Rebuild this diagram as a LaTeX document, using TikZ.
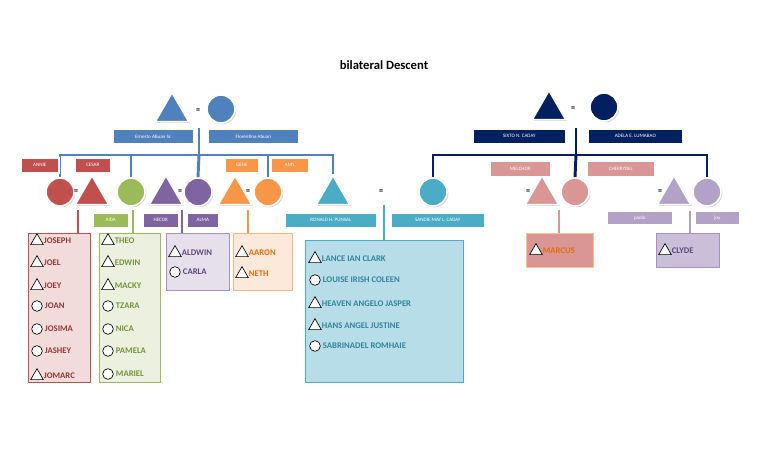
\documentclass[tikz,border=0pt]{standalone}
\usepackage{fontspec}
\setmainfont{Carlito}
\usetikzlibrary{shapes.geometric,shadows}
\definecolor{cblue}{HTML}{4F81BD}\definecolor{cred}{HTML}{C0504D}
\definecolor{cgreen}{HTML}{9BBB59}\definecolor{cpurp}{HTML}{8064A2}
\definecolor{corange}{HTML}{F79646}\definecolor{cteal}{HTML}{4BACC6}
\definecolor{cnavy}{HTML}{002060}\definecolor{cpink}{HTML}{D99694}
\definecolor{clav}{HTML}{B3A2C7}
\definecolor{lred}{HTML}{F2DCDB}\definecolor{lgreen}{HTML}{EBF1DE}
\definecolor{lpurp}{HTML}{E5E0EC}\definecolor{lorange}{HTML}{FDE9D9}
\definecolor{lteal}{HTML}{B7DEE8}
\definecolor{tred}{HTML}{943634}\definecolor{tgreen}{HTML}{76923C}
\definecolor{tpurp}{HTML}{5F497A}\definecolor{torange}{HTML}{E36C09}
\definecolor{tteal}{HTML}{31849B}
\tikzset{
 sh/.style={draw=white,line width=1.2pt,drop shadow={opacity=0.35,shadow xshift=1pt,shadow yshift=-1pt}},
 tri/.style={sh,regular polygon,regular polygon sides=3,minimum size=29pt,inner sep=0pt,fill=#1},
 cir/.style={sh,circle,minimum size=21pt,inner sep=0pt,fill=#1},
 lab/.style={sh,fill=#1,text=white,font=\fontsize{3.8}{4}\selectfont,inner sep=0pt,anchor=north west},
 eq/.style={font=\bfseries\fontsize{6}{6}\selectfont,inner sep=0pt},
 kbox/.style={draw=#1,line width=1pt,anchor=north west,inner sep=0pt},
 ln/.style={line width=2.2pt,draw=#1},
 stri/.style={draw=black,fill=white,regular polygon,regular polygon sides=3,minimum size=11pt,inner sep=0pt,line width=0.5pt},
 scir/.style={draw=black,fill=white,circle,minimum size=8pt,inner sep=0pt,line width=0.5pt},
 kname/.style={font=\bfseries\fontsize{6.5}{7}\selectfont,anchor=west,inner sep=0pt,text=#1},
}
\newcommand{\bx}[6]{\node[lab=#4,minimum width=#5*0.75pt,minimum height=#6*0.75pt] (#1) at (#2,#3) {#1};}
\newcommand{\kid}[6]{\node[#4] (s#1) at (#2,#3) {};\node[kname=#5] (k#1) at ([xshift=1.5pt]s#1.east) {#6};}
\begin{document}
\begin{tikzpicture}[x=0.75pt,y=-0.75pt]
\useasboundingbox[fill=white] (0,0) rectangle (768,466);
\node[font=\bfseries\fontsize{9.5}{10}\selectfont] (title) at (384,65) {bilateral Descent};
% ---- left grandparents
\node[tri=cblue] (gf1) at (172,112) {};
\node[eq] (e1) at (198,111) {=};
\node[cir=cblue] (gm1) at (221,109) {};
\node[lab=cblue,minimum width=81*0.75pt,minimum height=15*0.75pt] (lgf1) at (112,128) {Ernesto Abuan Sr.};
\node[lab=cblue,minimum width=91*0.75pt,minimum height=15*0.75pt] (lgm1) at (207,128) {Florentina Abuan};
% children
\node[cir=cred] (annie) at (60,192) {};
\node[eq] (e2) at (76,192) {=};
\node[tri=cred] (cesar) at (92,195) {};
\node[cir=cgreen] (aida) at (131,192) {};
\node[tri=cpurp] (hecor) at (166,195) {};
\node[eq] (e3) at (180,192) {=};
\node[cir=cpurp] (alma) at (198,192) {};
\node[tri=corange] (gene) at (235,195) {};
\node[eq] (e4) at (248,192) {=};
\node[cir=corange] (amy) at (268,192) {};
\node[tri=cteal] (ronald) at (333,195) {};
\node[eq] (e5) at (381,192) {=};
\node[cir=cteal] (sandie) at (433,192) {};
\coordinate (j1) at (199,155);
\draw[ln=cblue] (199,128) -- (j1);
\draw[ln=cblue] (annie.north) |- (j1) -| (ronald.north);
\draw[ln=cblue] (131,155) -- (aida.north);
\draw[ln=cblue] (j1) -- (alma.north);
\draw[ln=cblue] (268,155) -- (amy.north);
\node[lab=cred,minimum width=38*0.75pt,minimum height=15*0.75pt] (lannie) at (20,157) {ANNIE};
\node[lab=cred,minimum width=36*0.75pt,minimum height=15*0.75pt] (lcesar) at (74,157) {CESAR};
\node[lab=corange,minimum width=34*0.75pt,minimum height=15*0.75pt] (lgene) at (224,157) {GENE};
\node[lab=corange,minimum width=38*0.75pt,minimum height=15*0.75pt] (lamy) at (270,157) {AMY};
\node[lab=cgreen,minimum width=36*0.75pt,minimum height=15*0.75pt] (laida) at (92,212) {AIDA};
\node[lab=cpurp,minimum width=36*0.75pt,minimum height=15*0.75pt] (lhecor) at (142,212) {HECOR};
\node[lab=cpurp,minimum width=32*0.75pt,minimum height=15*0.75pt] (lalma) at (186,212) {ALMA};
\node[lab=cteal,minimum width=92*0.75pt,minimum height=15*0.75pt] (lronald) at (284,212) {RONALD H. PUNSAL};
\node[lab=cteal,minimum width=94*0.75pt,minimum height=15*0.75pt] (lsandie) at (390,212) {SANDIE MAY L. CADAY};
% kid boxes
\node[kbox=cred,fill=lred,minimum width=62*0.75pt,minimum height=149*0.75pt] (bred) at (28,233) {};
\node[kbox=cgreen,fill=lgreen,minimum width=61*0.75pt,minimum height=149*0.75pt] (bgreen) at (99,233) {};
\node[kbox=cpurp!70,fill=lpurp,minimum width=63*0.75pt,minimum height=57*0.75pt] (bpurp) at (166,233) {};
\node[kbox=corange!70,fill=lorange,minimum width=59*0.75pt,minimum height=57*0.75pt] (borange) at (233,233) {};
\node[kbox=cteal,fill=lteal,minimum width=158*0.75pt,minimum height=142*0.75pt] (bteal) at (305,240) {};
\draw[line width=2pt,cred] (78,210) -- (78,233);
\draw[line width=2pt,cgreen] (133,210) -- (133,233);
\draw[line width=2pt,cpurp] (182,210) -- (182,233);
\draw[line width=2pt,corange] (248,210) -- (248,233);
\draw[line width=2pt,cteal] (384,205) -- (384,240);
% red kids
\kid{a1}{37}{241}{stri}{tred}{JOSEPH}
\kid{a2}{37}{263}{stri}{tred}{JOEL}
\kid{a3}{37}{286}{stri}{tred}{JOEY}
\kid{a4}{37}{306}{scir}{tred}{JOAN}
\kid{a5}{37}{329}{scir}{tred}{JOSIMA}
\kid{a6}{37}{351}{scir}{tred}{JASHEY}
\kid{a7}{37}{376}{stri}{tred}{JOMARC}
\kid{b1}{108}{241}{stri}{tgreen}{THEO}
\kid{b2}{108}{263}{stri}{tgreen}{EDWIN}
\kid{b3}{108}{286}{stri}{tgreen}{MACKY}
\kid{b4}{108}{306}{scir}{tgreen}{TZARA}
\kid{b5}{108}{329}{scir}{tgreen}{NICA}
\kid{b6}{108}{351}{scir}{tgreen}{PAMELA}
\kid{b7}{108}{374}{scir}{tgreen}{MARIEL}
\kid{c1}{175}{253}{stri}{tpurp}{ALDWIN}
\kid{c2}{175}{272}{scir}{tpurp}{CARLA}
\kid{d1}{242}{253}{stri}{torange}{AARON}
\kid{d2}{242}{274}{stri}{torange}{NETH}
\kid{e1}{315}{259}{stri}{tteal}{LANCE IAN CLARK}
\kid{e2}{315}{280}{scir}{tteal}{LOUISE IRISH COLEEN}
\kid{e3}{315}{304}{stri}{tteal}{HEAVEN ANGELO JASPER}
\kid{e4}{315}{326}{stri}{tteal}{HANS ANGEL JUSTINE}
\kid{e5}{315}{346}{scir}{tteal}{SABRINADEL ROMHAIE}
% ---- right grandparents
\node[tri=cnavy] (gf2) at (549,110) {};
\node[eq] (e6) at (573,109) {=};
\node[cir=cnavy] (gm2) at (604,107) {};
\node[lab=cnavy,minimum width=93*0.75pt,minimum height=15*0.75pt] (lgf2) at (472,128) {SIXTO N. CADAY};
\node[lab=cnavy,minimum width=95*0.75pt,minimum height=15*0.75pt] (lgm2) at (587,128) {ADELA E. LUMABAO};
\node[tri=cpink] (melchor) at (542,195) {};
\node[eq] (e7) at (528,192) {=};
\node[cir=cpink] (cherry) at (575,192) {};
\node[tri=clav] (paolo) at (674,195) {};
\node[eq] (e8) at (660,192) {=};
\node[cir=clav] (joy) at (707,192) {};
\coordinate (j2) at (576,155);
\draw[ln=cnavy] (576,128) -- (j2);
\draw[ln=cnavy] (sandie.north) |- (j2) -| (joy.north);
\draw[ln=cnavy] (j2) -- (cherry.north);
\node[lab=cpink,minimum width=61*0.75pt,minimum height=16*0.75pt] (lmel) at (489,160) {MELCHOR};
\node[lab=cpink,minimum width=68*0.75pt,minimum height=16*0.75pt] (lcher) at (586,160) {CHERRYDEL};
\node[lab=clav,minimum width=66*0.75pt,minimum height=14*0.75pt] (lpaolo) at (606,210) {paolo};
\node[lab=clav,minimum width=45*0.75pt,minimum height=14*0.75pt] (ljoy) at (694,210) {joy};
\node[kbox=corange!60,fill=cpink,minimum width=67*0.75pt,minimum height=34*0.75pt] (bpink) at (526,233) {};
\node[kbox=cpurp!70,fill=clav!70,minimum width=63*0.75pt,minimum height=34*0.75pt] (blav) at (656,233) {};
\draw[line width=2pt,cpink] (559,210) -- (559,233);
\draw[line width=2pt,clav] (690,211) -- (690,233);
\kid{f1}{536}{251}{stri}{torange}{MARCUS}
\kid{g1}{665}{251}{stri}{tpurp}{CLYDE}
\end{tikzpicture}
\end{document}
